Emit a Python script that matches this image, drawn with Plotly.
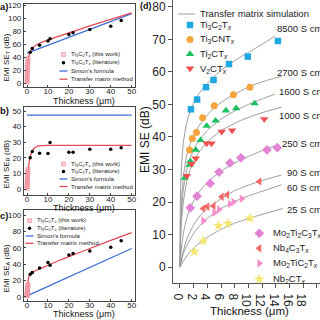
import plotly.graph_objects as go

# ---------------- data: panels a-c ----------------
lit_t = [1.5, 2.5, 6, 10, 11, 20, 22, 30, 40, 45]
lit_SET = [47.5, 53.5, 58.5, 65, 68.5, 75, 77.5, 82.5, 87.5, 96.5]
lit_SER = [20, 24, 23, 22.7, 29.8, 23.5, 23.5, 25.5, 25.5, 26.5]
lit_SEA = [27.5, 29.5, 35, 42, 38.5, 51, 53, 56, 60.5, 68.5]

work_t = [0.02, 0.04, 0.07, 0.1, 0.14, 0.18, 0.23, 0.3, 0.38, 0.45]
work_SET = [2, 5, 9, 13, 17, 21, 25, 29, 34, 38]
work_SER = [0.5, 1.5, 2.5, 4, 5, 6.5, 8, 9.5, 11, 12.5]
work_SEA = [1, 2, 3.5, 5, 6.5, 8, 9.5, 11, 13, 15]

simon_t = [0, 50]
simon_SET = [46.5, 107]
simon_SER = [47.4, 47.4]
simon_SEA = [1, 59]

tmm_t = [0, 0.1, 0.25, 0.5, 1, 1.5, 2, 3, 5, 10, 15, 20, 30, 40, 50]
tmm_SET = [0, 12, 25, 35, 43, 48, 51.5, 55.5, 60, 66.5, 72, 77.5, 88, 98, 108]
tmm_SER = [0, 3.5, 8, 12.5, 17, 20.5, 23, 25.5, 27.5, 28, 28, 28, 28, 28, 28]
tmm_SEA = [0, 6, 13, 20, 25, 27.5, 29, 30.5, 33, 38.5, 44, 49, 59, 69, 78.5]

# ---------------- data: panel d ----------------
ti3c2_t = [1.6, 2.5, 3.8, 4.9, 7.15, 9.9, 14.3]
ti3c2_se = [48.5, 51.5, 55.3, 57.5, 62.4, 64.7, 69.5]
ti3cn_t = [1.4, 1.8, 2.4, 3.3, 5.0, 7.8, 10.2]
ti3cn_se = [36, 39.5, 41.4, 45.9, 49.6, 53, 55.3]
ti2c_t = [0.7, 1.4, 1.5, 2.3, 3.0, 3.9, 5.2, 6.7, 8.2, 10.9]
ti2c_se = [27.4, 31.4, 32.5, 36, 39, 43.4, 45, 48.1, 48.8, 50.3]
v2c_t = [1.0, 1.7, 2.3, 3.9, 4.6, 6.1, 7.6, 12.3]
v2c_se = [28, 31.7, 33.4, 38, 38, 41.6, 42, 45.5]
mo2ti2c3_t = [1.5, 2.5, 4.4, 5.7, 7.3, 8.9, 12.7, 14.2]
mo2ti2c3_se = [18.2, 21.8, 25.7, 29.2, 32, 33.6, 36, 36.7]
nb4c3_t = [3.4, 4.0, 4.9, 6.1, 6.9, 11.6]
nb4c3_se = [18, 18.6, 18.8, 21.6, 22.2, 26.3]
mo2tic2_t = [3.4, 5.0, 5.7, 7.3, 7.8, 9.0]
mo2tic2_se = [14.2, 16.7, 17.7, 19.4, 20, 21]
nb2c_t = [2.1, 3.4, 5.6, 7.0, 10.2]
nb2c_se = [4.7, 8, 12.7, 13.4, 15]

sim_curves = {
    "8500": ([0, 0.03, 0.1, 0.25, 0.5, 1, 1.5, 2.5, 4, 6, 8, 10, 12, 13.9],
             [0, 15, 25, 32, 38.5, 44.5, 48, 52.5, 56.5, 60.5, 63.5, 66, 68.5, 71]),
    "2700": ([0, 0.05, 0.1, 0.25, 0.5, 1, 1.5, 2.5, 3.5, 5, 7, 9, 11, 13, 14.8],
             [0, 8, 14, 21.5, 28, 34.5, 38, 42.5, 45.5, 49, 52, 54.3, 56.2, 57.6, 58.6]),
    "1600": ([0, 0.05, 0.1, 0.25, 0.5, 1, 1.5, 2.5, 4, 6, 8, 10, 12, 13.9],
             [0, 7.5, 12, 18.5, 24, 30, 33.5, 38, 42, 45.5, 48, 50, 51.7, 53.2]),
    "1000": ([0, 0.1, 0.25, 0.5, 1, 1.5, 2.5, 4, 6, 8.8, 11.3, 13, 14.8],
             [0, 9, 14.5, 20, 26.5, 30, 34.5, 38.5, 42, 45, 47, 48.1, 49.1]),
    "250": ([0, 0.25, 0.5, 1, 1.5, 2.5, 4, 6, 8, 10, 12, 14.2],
            [0, 6.5, 10.5, 15.2, 18.1, 22.3, 26, 29.5, 32, 34, 35.8, 37.5]),
    "90": ([0, 0.5, 1, 2, 3, 4, 6, 8, 10, 12, 14.8],
           [0, 5, 8.6, 13, 16, 18, 21, 23.5, 25.2, 26.6, 28.3]),
    "60": ([0, 0.5, 1, 2, 3, 4, 6, 8, 10, 12, 14.8],
           [0, 4.3, 6.6, 10.4, 13, 15, 18, 20.2, 21.9, 23.3, 25.3]),
    "25": ([0, 0.5, 1, 2, 3, 4, 6, 8, 10, 12, 15],
           [0, 1.9, 3.4, 5.8, 7.7, 9.2, 11.6, 13.5, 14.9, 16.2, 18]),
}
sim_label_pos = {"8500": (13.9, 73.5), "2700": (13.9, 60), "1600": (14.1, 54.2),
                 "1000": (14.1, 46.6), "250": (14.6, 38), "90": (15.3, 29.3),
                 "60": (15.3, 24.7), "25": (15.3, 17.8)}

# ---------------- styling ----------------
FONT = "Liberation Sans, Arial, sans-serif"
W = H = 320
BLUE = "#3F6FD8"
RED = "#E64A55"
PINK_FILL = "rgba(245,165,178,0.55)"
PINK_LINE = "#EE8696"
GRAY = "#9C9C9C"

def px(x):
    return x / W

def py(y):
    return 1 - y / H

fig = go.Figure()

panels = [
    ("", "", work_SET, lit_SET, simon_SET, tmm_SET),
    ("2", "2", work_SER, lit_SER, simon_SER, tmm_SER),
    ("3", "3", work_SEA, lit_SEA, simon_SEA, tmm_SEA),
]
for xs, ys, w, l, s, t in panels:
    xa, ya = "x" + xs, "y" + ys
    fig.add_trace(go.Scatter(x=simon_t, y=s, mode="lines", line=dict(color=BLUE, width=1.3),
                             xaxis=xa, yaxis=ya, showlegend=False))
    fig.add_trace(go.Scatter(x=tmm_t, y=t, mode="lines", line=dict(color=RED, width=1.3, shape="spline", smoothing=0.6),
                             xaxis=xa, yaxis=ya, showlegend=False))
    fig.add_trace(go.Scatter(x=work_t, y=w, mode="markers",
                             marker=dict(symbol="square", size=4, color=PINK_FILL, line=dict(color=PINK_LINE, width=0.6)),
                             xaxis=xa, yaxis=ya, showlegend=False))
    fig.add_trace(go.Scatter(x=lit_t, y=l, mode="markers", marker=dict(symbol="circle", size=3.5, color="black"),
                             xaxis=xa, yaxis=ya, showlegend=False))

# panel d curves
for key, (tt, ss) in sim_curves.items():
    fig.add_trace(go.Scatter(x=tt, y=ss, mode="lines", line=dict(color=GRAY, width=1, shape="spline", smoothing=0.5),
                             xaxis="x4", yaxis="y4", showlegend=False))

d_series = [
    (ti3c2_t, ti3c2_se, "square", "#21A8E1", 6.5),
    (ti3cn_t, ti3cn_se, "circle", "#F6A53C", 7),
    (ti2c_t, ti2c_se, "triangle-up", "#1EC160", 7.5),
    (v2c_t, v2c_se, "triangle-down", "#F04F4F", 7.5),
    (mo2ti2c3_t, mo2ti2c3_se, "diamond", "#E383D6", 7.5),
    (nb4c3_t, nb4c3_se, "triangle-left", "#F26A68", 7.5),
    (mo2tic2_t, mo2tic2_se, "triangle-right", "#F68CCB", 7.5),
    (nb2c_t, nb2c_se, "star", "#F3E771", 8.5),
]
for tt, ss, sym, col, sz in d_series:
    fig.add_trace(go.Scatter(x=tt, y=ss, mode="markers", marker=dict(symbol=sym, size=sz, color=col),
                             xaxis="x4", yaxis="y4", showlegend=False))

# ---------------- manual legends (pixel overlay axis) ----------------
annotations = []
shapes = []

def leg_text(x, y, text, size, color="#222"):
    annotations.append(dict(x=px(x), y=py(y), xref="paper", yref="paper", text=text, showarrow=False,
                            xanchor="left", yanchor="middle", font=dict(family=FONT, size=size, color=color)))

def leg_line(x0, x1, y, color, width):
    shapes.append(dict(type="line", xref="paper", yref="paper", x0=px(x0), x1=px(x1), y0=py(y), y1=py(y),
                       line=dict(color=color, width=width)))

def leg_marker(x, y, sym, col, size, line=None):
    fig.add_trace(go.Scatter(x=[x], y=[y], mode="markers",
                             marker=dict(symbol=sym, size=size, color=col, line=line or dict(width=0)),
                             xaxis="x5", yaxis="y5", showlegend=False, hoverinfo="skip"))

TI = "Ti<sub>3</sub>C<sub>2</sub>T<sub>x</sub>"
abc_leg = [(63.5, 59.5, 67.5, 69, [54.5, 62.7, 71, 79.2]),
           (63.5, 59.5, 67.5, 69, [164, 171.5, 179, 186.5]),
           (29.5, 25.5, 33.5, 35, [220.7, 228.3, 236, 243.3])]
for mx, l0, l1, tx, rows in abc_leg:
    leg_marker(mx, rows[0], "square", PINK_FILL, 4, dict(color=PINK_LINE, width=0.6))
    leg_text(tx, rows[0], TI + " (this work)", 6)
    leg_marker(mx, rows[1], "circle", "black", 3.5)
    leg_text(tx, rows[1], TI + " (literature)", 6)
    leg_line(l0, l1, rows[2], BLUE, 1.3)
    leg_text(tx, rows[2], "Simon's formula", 6)
    leg_line(l0, l1, rows[3], RED, 1.3)
    leg_text(tx, rows[3], "Transfer matrix method", 6)

# panel d legends
leg_line(178, 195, 14, GRAY, 1)
leg_text(198, 14, "Transfer matrix simulation", 9.5)
d_leg_names = ["Ti<sub>3</sub>C<sub>2</sub>T<sub><i>x</i></sub>", "Ti<sub>3</sub>CNT<sub><i>x</i></sub>",
               "Ti<sub>2</sub>CT<sub><i>x</i></sub>", "V<sub>2</sub>CT<sub><i>x</i></sub>",
               "Mo<sub>2</sub>Ti<sub>2</sub>C<sub>3</sub>T<sub><i>x</i></sub>", "Nb<sub>4</sub>C<sub>3</sub>T<sub><i>x</i></sub>",
               "Mo<sub>2</sub>TiC<sub>2</sub>T<sub><i>x</i></sub>", "Nb<sub>2</sub>CT<sub><i>x</i></sub>"]
d_leg_pos = [(190, 198, 25), (190, 198, 39.5), (190, 198, 54), (190, 198, 68.5),
             (259.3, 271, 233.3), (259.3, 271, 248.3), (259.3, 271, 263.3), (259.3, 271, 279)]
for (tt, ss, sym, col, sz), name, (mx, tx, ry) in zip(d_series, d_leg_names, d_leg_pos):
    leg_marker(mx, ry, sym, col, sz)
    leg_text(tx, ry, name, 9.5)

# curve labels in d
for key, (lx, ly) in sim_label_pos.items():
    annotations.append(dict(x=lx, y=ly, xref="x4", yref="y4", text=key + " S cm<sup>-1</sup>", showarrow=False,
                            xanchor="left", yanchor="middle", font=dict(family=FONT, size=9.5, color="#222")))

# axis titles and panel labels
def title(x, y, text, size, angle=0, bold=False, anchor="center"):
    annotations.append(dict(x=px(x), y=py(y), xref="paper", yref="paper", text=("<b>%s</b>" % text) if bold else text,
                            showarrow=False, textangle=angle, xanchor=anchor, yanchor="middle",
                            font=dict(family=FONT, size=size, color="#111")))

title(6.5, 58, "EMI SE<sub>T</sub> (dB)", 8, -90)
title(6.5, 164, "EMI SE<sub>R</sub> (dB)", 8, -90)
title(6.5, 268, "EMI SE<sub>A</sub> (dB)", 8, -90)
title(84, 101, "Thickness (μm)", 9)
title(84, 208, "Thickness (μm)", 9)
title(84, 314, "Thickness (μm)", 9)
title(145, 140, "EMI SE (dB)", 12, -90)
title(249, 311, "Thickness (μm)", 11.5)
title(-2, 6, "a)", 9.5, bold=True, anchor="left")
title(-2, 110, "b)", 9.5, bold=True, anchor="left")
title(-2, 215, "c)", 9.5, bold=True, anchor="left")
title(138, 6, "(d)", 9, bold=True, anchor="left")

# ---------------- axes ----------------
frame = dict(showline=True, mirror=True, linecolor="#444", linewidth=1, showgrid=False, zeroline=False,
             ticks="inside", ticklen=2, tickcolor="#444", tickfont=dict(family=FONT, size=8, color="#222"),
             automargin=False)
xframe = dict(frame, ticklabelstandoff=-3)
xdom_abc = [px(23.9), px(134.8)]
layout_axes = dict(
    xaxis=dict(xframe, domain=xdom_abc, range=[-1.5, 51.5], tickvals=[0, 10, 20, 30, 40, 50], anchor="y"),
    yaxis=dict(frame, domain=[py(86.6), py(3.8)], range=[-5, 122], tickvals=[0, 20, 40, 60, 80, 100, 120], anchor="x"),
    xaxis2=dict(xframe, domain=xdom_abc, range=[-1.5, 51.5], tickvals=[0, 10, 20, 30, 40, 50], anchor="y2"),
    yaxis2=dict(frame, domain=[py(194.5), py(107.1)], range=[-3.5, 52.5], tickvals=[0, 10, 20, 30, 40, 50], anchor="x2"),
    xaxis3=dict(xframe, domain=xdom_abc, range=[-1.5, 51.5], tickvals=[0, 10, 20, 30, 40, 50], anchor="y3"),
    yaxis3=dict(frame, domain=[py(300.8), py(210.1)], range=[-5, 106], tickvals=[0, 20, 40, 60, 80, 100], anchor="x3"),
    xaxis4=dict(domain=[px(173), 1], range=[-1.02, 20.44], tickvals=list(range(0, 21, 2)), anchor="y4",
                showline=True, linecolor="#555", linewidth=1, ticks="outside", ticklen=4, tickcolor="#555",
                ticklabelstandoff=-3,
                showgrid=False, zeroline=False, tickfont=dict(family=FONT, size=12, color="#222"), automargin=False),
    yaxis4=dict(domain=[py(283), 1], range=[-4.9, 82.1], tickvals=list(range(0, 81, 10)), anchor="x4",
                showline=True, linecolor="#555", linewidth=1, ticks="outside", ticklen=4, tickcolor="#555",
                showgrid=False, zeroline=False, tickfont=dict(family=FONT, size=12, color="#222"), automargin=False),
    xaxis5=dict(domain=[0, 1], range=[0, W], visible=False, anchor="y5", fixedrange=True),
    yaxis5=dict(domain=[0, 1], range=[H, 0], visible=False, anchor="x5", fixedrange=True),
)

fig.update_layout(
    width=W, height=H, margin=dict(l=0, r=0, t=0, b=0),
    paper_bgcolor="white", plot_bgcolor="rgba(0,0,0,0)",
    template="none", showlegend=False,
    annotations=annotations, shapes=shapes,
    **layout_axes,
)

fig.write_html("out.html")
